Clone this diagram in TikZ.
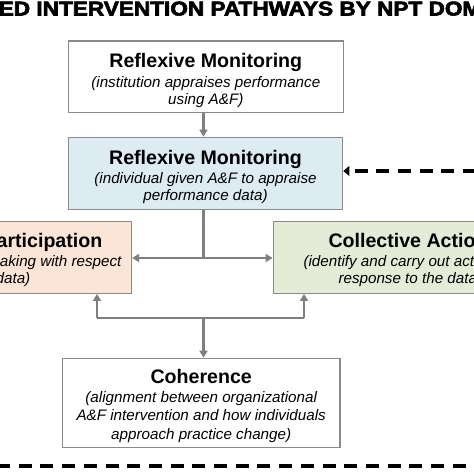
\documentclass[tikz,border=0pt]{standalone}
\usepackage{fontspec}
\setmainfont{Liberation Sans}
\newfontfamily\titlefont[BoldFeatures={FakeBold=3}]{Liberation Sans}
\usetikzlibrary{arrows.meta}
\definecolor{boxgray}{HTML}{8A8A8A}
\definecolor{arrgray}{HTML}{7F7F7F}
\definecolor{bluefill}{HTML}{DDEBF3}
\definecolor{peachfill}{HTML}{FBE5D6}
\definecolor{greenfill}{HTML}{E4ECD8}
\tikzset{
  box/.style={draw=boxgray, line width=1.3pt, inner sep=0pt, rectangle},
  bt/.style={inner sep=0pt, font=\fontsize{19.6}{22}\selectfont\bfseries},
  it/.style={inner sep=0pt, font=\fontsize{15.2}{17.5}\selectfont\itshape},
  arr/.style={draw=arrgray, line width=2.2pt, -{Triangle[length=7pt,width=8pt]}},
  ln/.style={draw=arrgray, line width=2.2pt},
  dashline/.style={draw=black, line width=4pt, dash pattern=on 13pt off 8.7pt},
}
\begin{document}
\begin{tikzpicture}[x=1pt,y=-1pt]
\useasboundingbox (0,0) rectangle (474,474);
\clip (0,0) rectangle (474,474);
\fill[white] (0,0) rectangle (474,474);

% title
\node[inner sep=0pt, anchor=base west, xscale=1.13, font=\titlefont\fontsize{20}{22}\selectfont\bfseries] (title) at (-1.5,15.5) {ED INTERVENTION PATHWAYS BY NPT DOM};

% boxes
\node[box, fill=white, minimum width=275pt, minimum height=71.3pt] (b1) at (205.8,76.6) {};
\node[box, fill=bluefill, minimum width=274.4pt, minimum height=72pt] (b2) at (205.5,173.3) {};
\node[box, fill=peachfill, minimum width=300pt, minimum height=71.6pt] (part) at (-18.5,257.5) {};
\node[box, fill=greenfill, minimum width=300pt, minimum height=71.6pt] (coll) at (423.3,257.5) {};
\node[box, fill=white, minimum width=277.7pt, minimum height=89.4pt] (coh) at (201.2,403) {};

% texts box 1
\node[bt, anchor=base] (b1a) at (205.8,67.3) {Reflexive Monitoring};
\node[it, anchor=base] (b1b) at (205.8,87.3) {(institution appraises performance};
\node[it, anchor=base] (b1c) at (205.8,104.3) {using A\&F)};

% texts box 2
\node[bt, anchor=base] (b2a) at (205.5,164.3) {Reflexive Monitoring};
\node[it, anchor=base] (b2b) at (205.5,183.5) {(individual given A\&F to appraise};
\node[it, anchor=base] (b2c) at (205.5,200.5) {performance data)};

% participation texts
\node[bt, anchor=base east] (pa) at (102.5,247) {Participation};
\node[it, anchor=base east] (pb) at (121.7,266.5) {aking with respect};
\node[it, anchor=base east] (pc) at (30.5,283) {data)};

% collective texts
\node[bt, anchor=base west] (ca) at (328.3,247) {Collective Action};
\node[it, anchor=base west] (cb) at (303.3,266) {(identify and carry out actions};
\node[it, anchor=base west] (cc) at (338.3,283) {response to the data)};

% coherence texts
\node[bt, anchor=base] (ha) at (201.2,383.5) {Coherence};
\node[it, anchor=base] (hb) at (201.2,402.7) {(alignment between organizational};
\node[it, anchor=base] (hc) at (201.2,420.7) {A\&F intervention and how individuals};
\node[it, anchor=base] (hd) at (201.2,439) {approach practice change)};

% connectors
\coordinate (j1) at (203.5,258);
\coordinate (j2) at (203.5,318);
\coordinate (lp) at (97,318);
\coordinate (rp) at (304,318);
\draw[arr] (b1.south -| j1) -- (b2.north -| j1);
\draw[ln] (b2.south -| j1) -- (j1);
\draw[arr] (j1) -- (j1 -| part.east);
\draw[arr] (j1) -- (j1 -| coll.west);
\draw[ln, line join=miter] (rp) -- (lp);
\draw[arr] (lp) -- (lp |- part.south);
\draw[arr] (rp) -- (rp |- coll.south);
\draw[arr] (j2) -- (j2 |- coh.north);

% dashed lines
\coordinate (dr) at (476,171);
\draw[dashline, -{Triangle[length=6pt,width=10pt]}] (dr) -- (dr -| b2.east);
\coordinate (bl) at (-3,466);
\coordinate (br) at (478,466);
\draw[dashline] (bl) -- (br);
\end{tikzpicture}
\end{document}
